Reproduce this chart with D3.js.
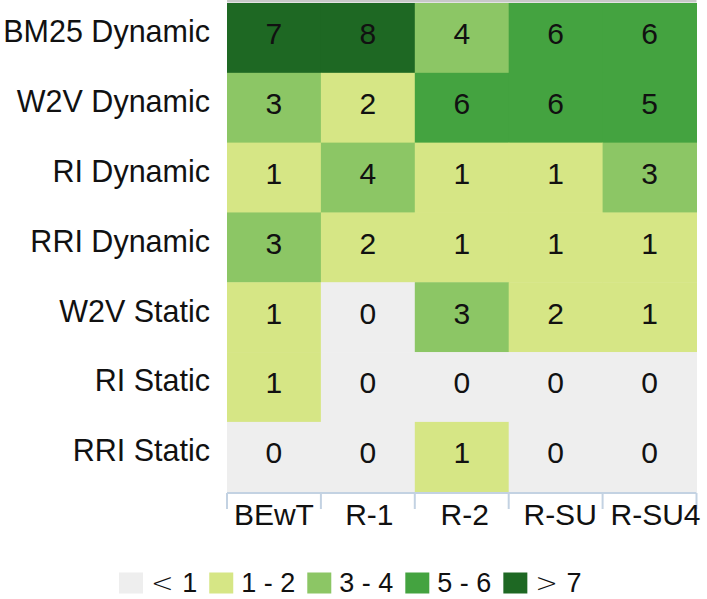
<!DOCTYPE html>
<html>
  <head>
    <meta charset="utf-8">
    <title>Heatmap</title>
    <script src="https://d3js.org/d3.v7.min.js"></script>
    <style>
      body { margin: 0; background: #fff; }
      text { font-family: "Liberation Sans", Arial, sans-serif; fill: #111; }
    </style>
  </head>
  <body>
    <svg id="canvas" width="707" height="599"></svg>
    <script>

      // rows (top to bottom) and columns
      var methods = ["BM25 Dynamic", "W2V Dynamic", "RI Dynamic", "RRI Dynamic", "W2V Static", "RI Static", "RRI Static"];
      var metrics = ["BEwT", "R-1", "R-2", "R-SU", "R-SU4"];

      // counts per row, in column order
      var bm25Dyn = [7, 8, 4, 6, 6];
      var w2vDyn  = [3, 2, 6, 6, 5];
      var riDyn   = [1, 4, 1, 1, 3];
      var rriDyn  = [3, 2, 1, 1, 1];
      var w2vSta  = [1, 0, 3, 2, 1];
      var riSta   = [1, 0, 0, 0, 0];
      var rriSta  = [0, 0, 1, 0, 0];

      var legendSymbols = ["<", "", "", "", ">"];
      var legendLabels = ["1", "1 - 2", "3 - 4", "5 - 6", "7"];
      var legendColors = ["#eeeeee", "#d6e685", "#8cc665", "#44a340", "#1e6823"];
      var thresholds = [1, 3, 5, 7];

      var rows = [bm25Dyn, w2vDyn, riDyn, rriDyn, w2vSta, riSta, rriSta];
      var cells = [];
      rows.forEach(function(r, i){
        r.forEach(function(v, j){
          cells.push({method: methods[i], metric: metrics[j], value: v});
        });
      });

      var svg = d3.select("#canvas");

      var x = d3.scaleBand().domain(metrics).range([227, 696.5]).padding(0);
      var y = d3.scaleBand().domain(methods).range([3, 491.7]).padding(0);
      var color = d3.scaleThreshold().domain(thresholds).range(legendColors);

      // top edge line
      svg.append("line")
        .attr("x1", x.range()[0]).attr("x2", x.range()[1])
        .attr("y1", 1.3).attr("y2", 1.3)
        .style("stroke", "#c8c8c8")
        .style("stroke-width", 2.6);

      svg.selectAll("rect.cell")
        .data(cells)
        .enter()
        .append("rect")
        .attr("class", "cell")
        .attr("x", function(d){ return x(d.metric); })
        .attr("y", function(d){ return y(d.method); })
        .attr("width", x.bandwidth() + 0.5)
        .attr("height", y.bandwidth() + 0.5)
        .style("fill", function(d){ return color(d.value); });

      svg.selectAll("text.val")
        .data(cells)
        .enter()
        .append("text")
        .attr("class", "val")
        .attr("x", function(d){ return x(d.metric) + x.bandwidth() / 2; })
        .attr("y", function(d){ return y(d.method) + y.bandwidth() / 2 + 6.5; })
        .style("text-anchor", "middle")
        .style("font-size", "30px")
        .text(function(d){ return d.value; });

      // row labels
      svg.selectAll("text.row")
        .data(methods)
        .enter()
        .append("text")
        .attr("class", "row")
        .attr("x", 210)
        .attr("y", function(d){ return y(d) + y.bandwidth() / 2 + 4.5; })
        .style("text-anchor", "end")
        .style("font-size", "30.5px")
        .text(function(d){ return d; });

      // bottom axis, ticks on the band edges
      var axisY = 493;
      var edges = x.domain().map(function(d){ return x(d); }).concat([x.range()[1]]);
      var ax = svg.append("g");
      ax.append("line")
        .attr("x1", edges[0]).attr("x2", edges[edges.length - 1])
        .attr("y1", axisY).attr("y2", axisY)
        .style("stroke", "#c3d2e2").style("stroke-width", 2);
      ax.selectAll("line.tick")
        .data(edges)
        .enter()
        .append("line")
        .attr("class", "tick")
        .attr("x1", function(d){ return d; }).attr("x2", function(d){ return d; })
        .attr("y1", axisY).attr("y2", 509)
        .style("stroke", "#c3d2e2").style("stroke-width", 2);
      ax.selectAll("text")
        .data(metrics)
        .enter()
        .append("text")
        .attr("x", function(d, i){ return x(d) + x.bandwidth() / 2 + i * 1.5; })
        .attr("y", 525)
        .style("text-anchor", "middle")
        .style("font-size", "30px")
        .text(function(d){ return d; });

      // legend, laid out left to right
      var lg = svg.append("g");
      var lx = 119;
      legendLabels.forEach(function(lab, i){
        lg.append("rect")
          .attr("x", lx).attr("y", 572.5)
          .attr("width", 24).attr("height", 21)
          .style("fill", legendColors[i]);
        var t = lg.append("text")
          .attr("x", lx + 32).attr("y", 592)
          .style("font-size", "27px");
        if (legendSymbols[i]) {
          t.append("tspan")
            .style("font-family", "'DejaVu Sans', sans-serif")
            .style("font-weight", "200")
            .text(legendSymbols[i] + " ");
        }
        t.append("tspan").text(lab);
        lx = lx + 32 + t.node().getComputedTextLength() + 12;
      });

    </script>
  </body>
</html>
